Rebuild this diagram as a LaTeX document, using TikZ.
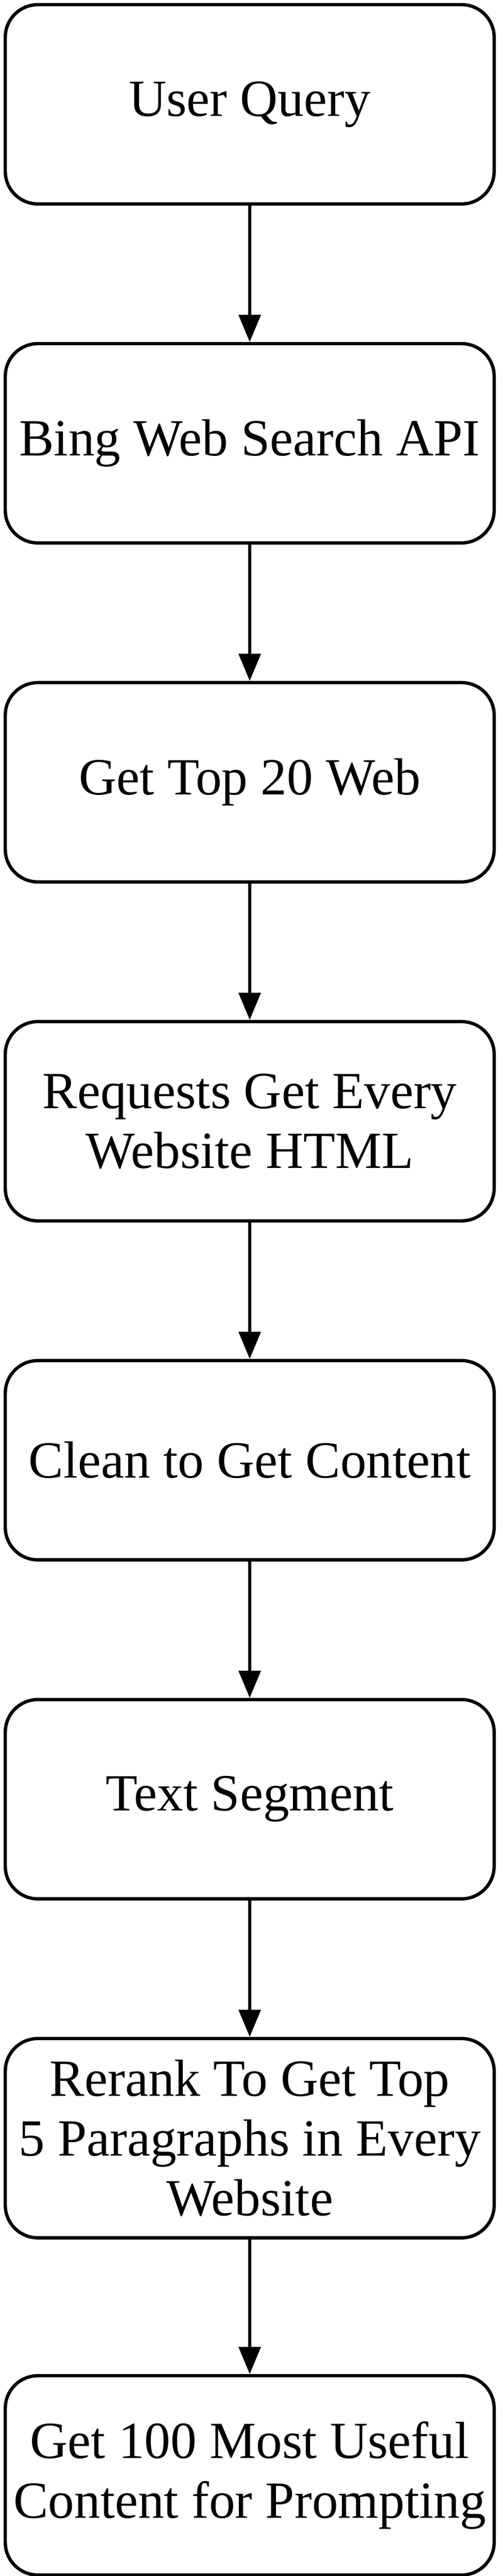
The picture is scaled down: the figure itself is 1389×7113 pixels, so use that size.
\documentclass[tikz,border=0pt]{standalone}
\usepackage{fontspec}
\setmainfont{Liberation Serif}
\usetikzlibrary{arrows.meta}
\begin{document}
\begin{tikzpicture}[x=0.01cm,y=-0.01cm,
  stepbox/.style={draw,line width=2.6pt,rounded corners=0.9cm,minimum width=13.5cm,minimum height=5.5cm,align=center,inner sep=0pt,font=\fontsize{41}{47}\selectfont},
  conn/.style={line width=2.6pt,-{Triangle[length=0.75cm,width=0.6cm]}}]
\useasboundingbox (0,0) rectangle (1389,7113);
\def\cx{690}
\node[stepbox] (a) at (\cx,288) {User Query};
\node[stepbox] (b) at (\cx,1224) {Bing Web Search API};
\node[stepbox] (c) at (\cx,2160) {Get Top 20 Web};
\node[stepbox] (d) at (\cx,3096) {Requests Get Every\\Website HTML};
\node[stepbox] (e) at (\cx,4032) {Clean to Get Content};
\node[stepbox] (f) at (\cx,4968) {Text Segment};
\node[stepbox] (g) at (\cx,5904) {Rerank To Get Top\\5 Paragraphs in Every\\Website};
\node[stepbox] (h) at (\cx,6835) {Get 100 Most Useful\\Content for Prompting};
\foreach \p/\q in {a/b,b/c,c/d,d/e,e/f,f/g,g/h} \draw[conn] (\p) -- (\q);
\end{tikzpicture}
\end{document}
